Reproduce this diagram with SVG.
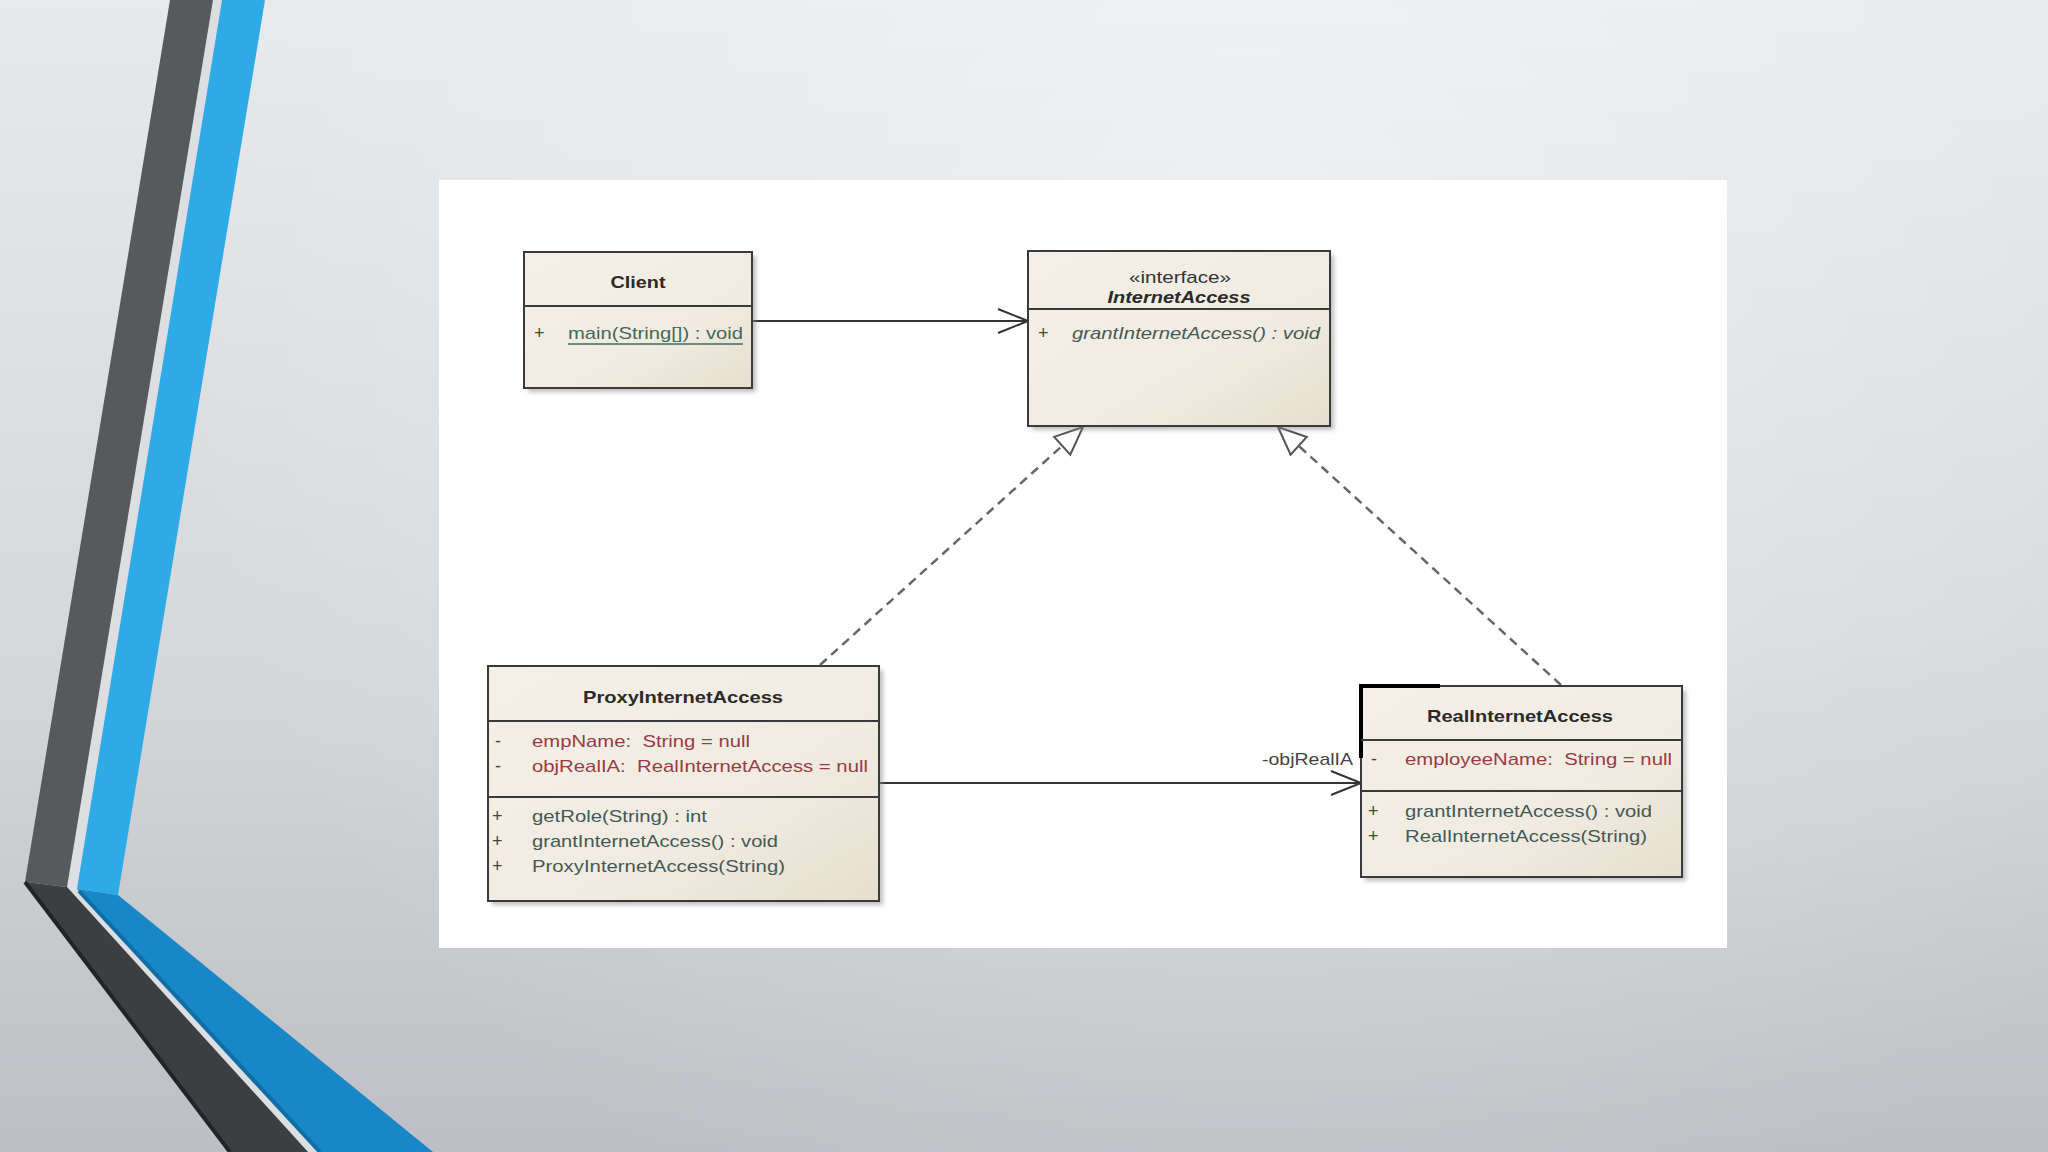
<svg xmlns="http://www.w3.org/2000/svg" width="2048" height="1152" viewBox="0 0 2048 1152">
<defs>
<linearGradient id="bg" x1="0" y1="0" x2="0" y2="1">
<stop offset="0" stop-color="#E7E9EB"/>
<stop offset="0.55" stop-color="#D6D8DB"/>
<stop offset="1" stop-color="#BDBFC4"/>
</linearGradient>
<radialGradient id="hl" cx="1250" cy="250" r="1100" gradientUnits="userSpaceOnUse">
<stop offset="0" stop-color="#FFFFFF" stop-opacity="0.4"/>
<stop offset="1" stop-color="#FFFFFF" stop-opacity="0"/>
</radialGradient>
<linearGradient id="boxfill" x1="0" y1="0" x2="1" y2="1">
<stop offset="0" stop-color="#F4F0E7"/>
<stop offset="0.6" stop-color="#F1ECE2"/>
<stop offset="1" stop-color="#E6DFD0"/>
</linearGradient>
<filter id="shadow" x="-10%" y="-10%" width="130%" height="130%">
<feGaussianBlur stdDeviation="2"/>
</filter>
<marker id="open" markerUnits="userSpaceOnUse" markerWidth="40" markerHeight="40" viewBox="-34 -16 40 32" refX="0" refY="0" orient="auto">
<path d="M -30 -12 L 0 0 L -30 12" fill="none" stroke="#333" stroke-width="2"/>
</marker>
<marker id="tri" markerUnits="userSpaceOnUse" markerWidth="40" markerHeight="40" viewBox="-34 -18 40 36" refX="0" refY="0" orient="auto">
<path d="M 0 0 L -28 -12 L -28 12 Z" fill="#FFFFFF" stroke="#555" stroke-width="2"/>
</marker>
</defs>
<style>
.box{fill:url(#boxfill);stroke:#3A3A3A;stroke-width:2}
.shd{fill:#8A8A8A;opacity:0.55;filter:url(#shadow)}
.sep{stroke:#3A3A3A;stroke-width:2}
text{font-family:"Liberation Sans",Arial,sans-serif;font-size:17px;white-space:pre}
.title{font-weight:bold;fill:#2A2A2A;text-anchor:middle}
.vis{fill:#444444;font-size:18px}
.attr{fill:#9C3A44}
.meth{fill:#465856}
.lbl{fill:#444444}
.assoc{stroke:#333;stroke-width:2;fill:none}
.real{stroke:#676767;stroke-width:2.5;stroke-dasharray:9 6;fill:none}
</style>

<rect x="0" y="0" width="2048" height="1152" fill="url(#bg)"/>
<rect x="0" y="0" width="2048" height="1152" fill="url(#hl)"/>

<g id="decor">
<polygon points="213,0 222,0 77,889 318,1152 308,1152 67,887" fill="#DCDEE1"/>
<polygon points="170,0 213,0 67,887 25,882" fill="#58595B"/>
<polygon points="25,882 67,887 308,1152 230,1152" fill="#3D3E41"/>
<line x1="25" y1="882" x2="230" y2="1152" stroke="#232427" stroke-width="4"/>
<polygon points="222,0 265,0 118,895 77,889" fill="#2EAAE7"/>
<polygon points="77,889 118,895 433,1152 318,1152" fill="#1787C7"/>
<line x1="79" y1="891" x2="320" y2="1152" stroke="#0F6EA6" stroke-width="4"/>
</g>

<rect id="panel" x="439" y="180" width="1288" height="768" fill="#FFFFFF"/>

<g id="connectors">
<line class="assoc" x1="752" y1="321" x2="1028" y2="321" marker-end="url(#open)"/>
<line class="assoc" x1="879" y1="783" x2="1361" y2="783" marker-end="url(#open)"/>
<text class="lbl" x="1262" y="765" textLength="91" lengthAdjust="spacingAndGlyphs">-objRealIA</text>
<line class="real" x1="820" y1="665" x2="1083" y2="427" marker-end="url(#tri)"/>
<line class="real" x1="1561" y1="685" x2="1278" y2="427" marker-end="url(#tri)"/>
</g>

<g id="client">
<rect class="shd" x="528" y="256" width="228" height="136"/>
<rect class="box" x="524" y="252" width="228" height="136"/>
<line class="sep" x1="524" y1="306" x2="752" y2="306"/>
<text class="title" x="638" y="288" textLength="55" lengthAdjust="spacingAndGlyphs">Client</text>
<text class="vis" x="534" y="339">+</text>
<text x="568" y="339" fill="#3F6A5C" textLength="175" lengthAdjust="spacingAndGlyphs">main(String[]) : void</text>
<line x1="568" y1="344" x2="743" y2="344" stroke="#3F6A5C" stroke-width="1.5"/>
</g>

<g id="internetaccess">
<rect class="shd" x="1032" y="255" width="302" height="175"/>
<rect class="box" x="1028" y="251" width="302" height="175"/>
<line class="sep" x1="1028" y1="309" x2="1330" y2="309"/>
<text x="1180" y="283" fill="#333" text-anchor="middle" font-size="15" textLength="102" lengthAdjust="spacingAndGlyphs">«interface»</text>
<text class="title" x="1179" y="303" font-style="italic" textLength="143" lengthAdjust="spacingAndGlyphs">InternetAccess</text>
<text class="vis" x="1038" y="339">+</text>
<text class="meth" x="1072" y="339" font-style="italic" fill="#4E6E6A" textLength="248" lengthAdjust="spacingAndGlyphs">grantInternetAccess() : void</text>
</g>

<g id="proxy">
<rect class="shd" x="492" y="670" width="391" height="235"/>
<rect class="box" x="488" y="666" width="391" height="235"/>
<line class="sep" x1="488" y1="721" x2="879" y2="721"/>
<line class="sep" x1="488" y1="797" x2="879" y2="797"/>
<text class="title" x="683" y="703" textLength="200" lengthAdjust="spacingAndGlyphs">ProxyInternetAccess</text>
<text class="vis" x="495" y="747">-</text>
<text class="attr" x="532" y="747" textLength="218" lengthAdjust="spacingAndGlyphs">empName:  String = null</text>
<text class="vis" x="495" y="772">-</text>
<text class="attr" x="532" y="772" textLength="336" lengthAdjust="spacingAndGlyphs">objRealIA:  RealInternetAccess = null</text>
<text class="vis" x="492" y="822">+</text>
<text class="meth" x="532" y="822" textLength="175" lengthAdjust="spacingAndGlyphs">getRole(String) : int</text>
<text class="vis" x="492" y="847">+</text>
<text class="meth" x="532" y="847" textLength="246" lengthAdjust="spacingAndGlyphs">grantInternetAccess() : void</text>
<text class="vis" x="492" y="872">+</text>
<text class="meth" x="532" y="872" textLength="253" lengthAdjust="spacingAndGlyphs">ProxyInternetAccess(String)</text>
</g>

<g id="real">
<rect class="shd" x="1365" y="690" width="321" height="191"/>
<rect class="box" x="1361" y="686" width="321" height="191"/>
<polyline points="1440,686 1361,686 1361,758" fill="none" stroke="#000" stroke-width="4"/>
<line class="sep" x1="1361" y1="740" x2="1682" y2="740"/>
<line class="sep" x1="1361" y1="791" x2="1682" y2="791"/>
<text class="title" x="1520" y="722" textLength="186" lengthAdjust="spacingAndGlyphs">RealInternetAccess</text>
<text class="vis" x="1371" y="765">-</text>
<text class="attr" x="1405" y="765" textLength="267" lengthAdjust="spacingAndGlyphs">employeeName:  String = null</text>
<text class="vis" x="1368" y="817">+</text>
<text class="meth" x="1405" y="817" textLength="247" lengthAdjust="spacingAndGlyphs">grantInternetAccess() : void</text>
<text class="vis" x="1368" y="842">+</text>
<text class="meth" x="1405" y="842" textLength="242" lengthAdjust="spacingAndGlyphs">RealInternetAccess(String)</text>
</g>
</svg>
